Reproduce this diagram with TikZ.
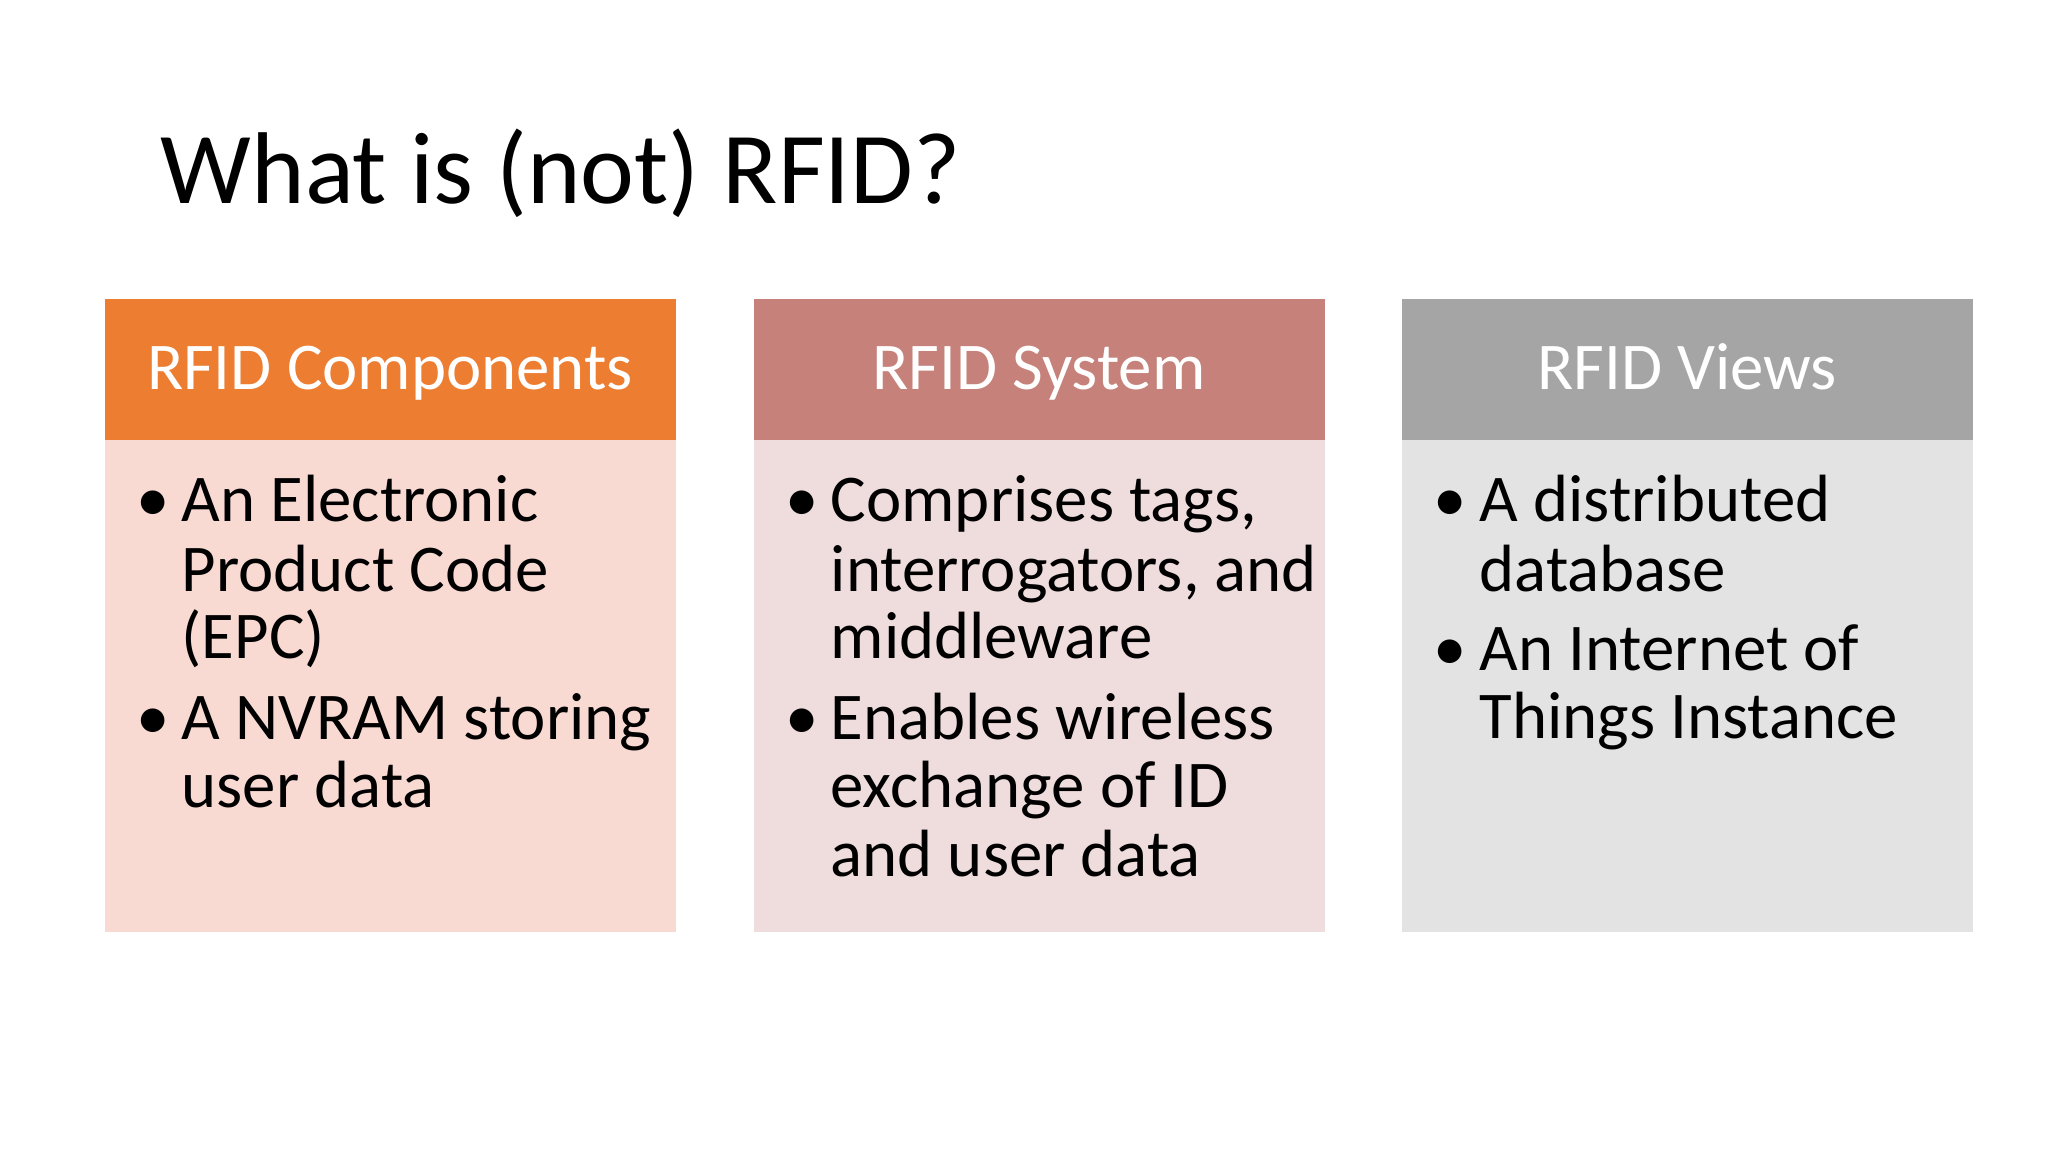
\documentclass[tikz,border=0pt]{standalone}
\usepackage{fontspec}
\setmainfont{Carlito}
\definecolor{h1}{HTML}{ED7D31}\definecolor{b1}{HTML}{F9DAD3}
\definecolor{h2}{HTML}{C5817A}\definecolor{b2}{HTML}{EFDCDD}
\definecolor{h3}{HTML}{A5A5A5}\definecolor{b3}{HTML}{E3E3E3}
\begin{document}
\begin{tikzpicture}[x=0.01cm,y=-0.01cm,
  head/.style={anchor=base,text=white,font=\fontsize{19}{23}\selectfont},
  txt/.style={anchor=base west,inner sep=0,font=\fontsize{19}{23}\selectfont},
  bul/.style={anchor=base west,inner sep=0,font=\fontsize{19}{23}\selectfont}]
\useasboundingbox[fill=white] (0,0) rectangle (2048,1152);
\node[anchor=base west,inner sep=0,font=\fontsize{29}{34}\selectfont] (title) at (160,204) {What is (not) RFID?};
% boxes
\foreach \x/\h/\b/\n in {105/h1/b1/1,754/h2/b2/2,1402/h3/b3/3}{
  \fill[\b] (\x,440) rectangle ++(571,492);
  \fill[\h] (\x,299) rectangle ++(571,141);
}
\node[head] (t1) at (390,390) {RFID Components};
\node[head] (t2) at (1039,390) {RFID System};
\node[head] (t3) at (1687,390) {RFID Views};
% column 1
\node[bul] (b11) at (136,522) {•};
\node[txt] (l11) at (181,522) {An Electronic};
\node[txt] (l12) at (181,591) {Product Code};
\node[txt] (l13) at (181,659) {(EPC)};
\node[bul] (b12) at (136,739) {•};
\node[txt] (l14) at (181,739) {A NVRAM storing};
\node[txt] (l15) at (181,807) {user data};
% column 2
\node[bul] (b21) at (785,522) {•};
\node[txt] (l21) at (830,522) {Comprises tags,};
\node[txt] (l22) at (830,591) {interrogators, and};
\node[txt] (l23) at (830,659) {middleware};
\node[bul] (b22) at (785,739) {•};
\node[txt] (l24) at (830,739) {Enables wireless};
\node[txt] (l25) at (830,807) {exchange of ID};
\node[txt] (l26) at (830,876) {and user data};
% column 3
\node[bul] (b31) at (1433,522) {•};
\node[txt] (l31) at (1479,522) {A distributed};
\node[txt] (l32) at (1479,591) {database};
\node[bul] (b32) at (1433,670) {•};
\node[txt] (l33) at (1479,670) {An Internet of};
\node[txt] (l34) at (1479,738) {Things Instance};
\end{tikzpicture}
\end{document}
